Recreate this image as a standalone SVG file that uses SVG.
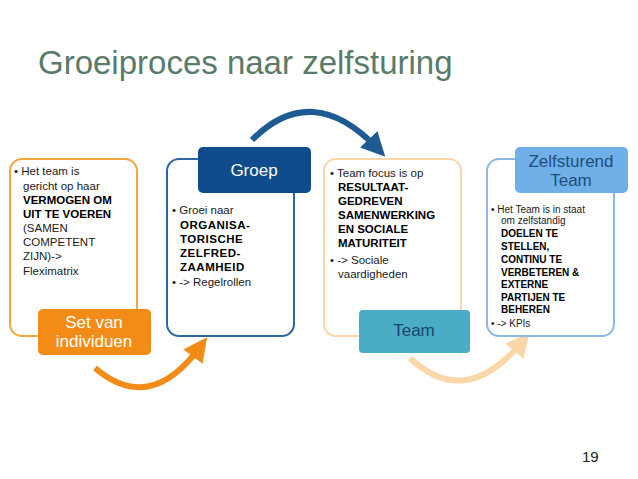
<svg xmlns="http://www.w3.org/2000/svg" width="638" height="479" viewBox="0 0 638 479">
<style>
text{font-family:"Liberation Sans",Arial,sans-serif}
.b{font-size:11.5px;fill:#1a1a1a}
.bb{font-size:11.5px;font-weight:bold;fill:#000}
.s{font-size:10px;fill:#1a1a1a}
.sb{font-size:10px;font-weight:bold;fill:#000}
.lab{font-size:17px;text-anchor:middle}
</style>
<defs>
<marker id="mo" viewBox="0 0 10 10" refX="5" refY="5" markerWidth="4" markerHeight="4" orient="auto"><path d="M0,0L10,5L0,10z" fill="#F28C17"/></marker>
<marker id="mb" viewBox="0 0 10 10" refX="5" refY="5" markerWidth="4" markerHeight="4" orient="auto"><path d="M0,0L10,5L0,10z" fill="#1F5B93"/></marker>
<marker id="mp" viewBox="0 0 10 10" refX="5" refY="5" markerWidth="4" markerHeight="4" orient="auto"><path d="M0,0L10,5L0,10z" fill="#F9D7A8"/></marker>
</defs>
<rect width="638" height="479" fill="#fff"/>
<text x="38" y="74" font-size="33" fill="#5A7A6A">Groeiproces naar zelfsturing</text>
<g id="connectors" fill="none" stroke-width="6">
<path d="M95,368 Q150,415 200,347" stroke="#F28C17" marker-end="url(#mo)"/>
<path d="M252,140 Q312,80 377,148" stroke="#1F5B93" marker-end="url(#mb)"/>
<path d="M410,358 Q465,410 522,342" stroke="#F9D7A8" marker-end="url(#mp)"/>
</g>
<g id="node1">
<rect x="10" y="159" width="127" height="177" rx="12" fill="#fff" stroke="#F4A640" stroke-width="2"/>
<text class="b"><tspan x="14" y="175">• Het team is</tspan><tspan x="23" y="190">gericht op haar</tspan></text>
<text class="bb"><tspan x="23" y="204">VERMOGEN OM</tspan><tspan x="23" y="218">UIT TE VOEREN</tspan></text>
<text class="b"><tspan x="23" y="232">(SAMEN</tspan><tspan x="23" y="246">COMPETENT</tspan><tspan x="23" y="260">ZIJN)-&gt;</tspan><tspan x="23" y="275">Fleximatrix</tspan></text>
<rect x="38" y="309" width="113" height="46" rx="5" fill="#F28C17"/>
<text class="lab" fill="#fff"><tspan x="94" y="328">Set van</tspan><tspan x="94" y="347">individuen</tspan></text>
</g>
<g id="node2">
<rect x="167" y="159" width="127" height="177" rx="12" fill="#fff" stroke="#2E66A3" stroke-width="2"/>
<rect x="198" y="147" width="113" height="46" rx="5" fill="#0F4C8C"/>
<text class="lab" fill="#fff" x="254" y="176">Groep</text>
<text class="b"><tspan x="172" y="214">•  Groei naar</tspan></text>
<text class="bb" letter-spacing="0.5"><tspan x="180" y="229">ORGANISA-</tspan><tspan x="180" y="243">TORISCHE</tspan><tspan x="180" y="257">ZELFRED-</tspan><tspan x="180" y="271">ZAAMHEID</tspan></text>
<text class="b"><tspan x="172" y="286">• -&gt; Regelrollen</tspan></text>
</g>
<g id="node3">
<rect x="324" y="159" width="137" height="177" rx="12" fill="#fff" stroke="#F9D7A8" stroke-width="2"/>
<text class="b"><tspan x="330" y="177">• Team focus is op</tspan></text>
<text class="bb"><tspan x="338" y="191">RESULTAAT-</tspan><tspan x="338" y="205">GEDREVEN</tspan><tspan x="338" y="219">SAMENWERKING</tspan><tspan x="338" y="233">EN SOCIALE</tspan><tspan x="338" y="247">MATURITEIT</tspan></text>
<text class="b"><tspan x="330" y="264">• -&gt; Sociale</tspan><tspan x="338" y="278">vaardigheden</tspan></text>
<rect x="359" y="310" width="111" height="43" rx="4" fill="#4BACC6"/>
<text class="lab" fill="#17456B" x="414" y="336">Team</text>
</g>
<g id="node4">
<rect x="487" y="159" width="127" height="177" rx="12" fill="#fff" stroke="#8DB8E4" stroke-width="2"/>
<rect x="515" y="147" width="113" height="46" rx="5" fill="#6FB0E8"/>
<text class="lab" fill="#1F4E79"><tspan x="571" y="167">Zelfsturend</tspan><tspan x="571" y="186">Team</tspan></text>
<text class="s"><tspan x="491" y="213">• Het Team is in staat</tspan><tspan x="501" y="224">om zelfstandig</tspan></text>
<text class="sb"><tspan x="501" y="237">DOELEN TE</tspan><tspan x="501" y="250">STELLEN,</tspan><tspan x="501" y="263">CONTINU TE</tspan><tspan x="501" y="276">VERBETEREN &amp;</tspan><tspan x="501" y="288">EXTERNE</tspan><tspan x="501" y="301">PARTIJEN TE</tspan><tspan x="501" y="313">BEHEREN</tspan></text>
<text class="s"><tspan x="491" y="327">• -&gt; KPIs</tspan></text>
</g>
<text x="582" y="462" font-size="15" fill="#222">19</text>
</svg>
